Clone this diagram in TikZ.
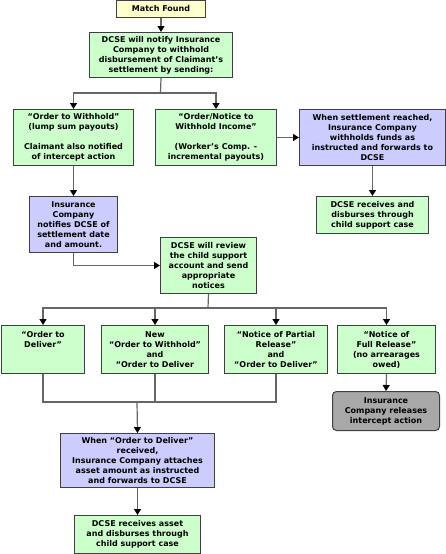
\documentclass[tikz,border=0pt]{standalone}
\usepackage{fontspec}
\setmainfont{DejaVu Sans}
\usetikzlibrary{arrows.meta}
\definecolor{gfill}{HTML}{CCFFCC}
\definecolor{bfill}{HTML}{CCCCFF}
\definecolor{yfill}{HTML}{FFFFCC}
\definecolor{rfill}{HTML}{A8A8A8}
\definecolor{bord}{HTML}{404040}
\definecolor{conn}{HTML}{666666}
\tikzset{
  box/.style={draw=bord, line width=1pt, anchor=north west, align=center,
    inner sep=1.5pt, font=\fontsize{8}{10}\selectfont\bfseries},
  gbox/.style={box, fill=gfill},
  ybox/.style={box, fill=yfill},
  rbox/.style={box, fill=rfill, rounded corners=4pt},
  conline/.style={draw=conn, line width=1.2pt},
  arr/.style={conline, -{Triangle[width=7pt,length=6pt,color=black]}},
}
\begin{document}
\begin{tikzpicture}[x=1pt,y=-1pt]
\useasboundingbox (0,0) rectangle (446,554);
% nodes
\node[ybox, minimum width=89pt, minimum height=17pt] (match) at (116,0) {Match Found};
\node[gbox, minimum width=143pt, minimum height=45pt] (notify) at (89,32)
  {DCSE will notify Insurance\\Company to withhold\\disbursement of Claimant’s\\settlement by sending:};
\node[gbox, minimum width=120pt, minimum height=56pt] (otw) at (13,109)
  {“Order to Withhold”\\(lump sum payouts)\\[10pt]Claimant also notified\\of intercept action};
\node[gbox, minimum width=121pt, minimum height=56pt] (onw) at (155,109)
  {“Order/Notice to\\Withhold Income”\\[10pt](Worker’s Comp. -\\incremental payouts)};
\node[box, fill=bfill, minimum width=146pt, minimum height=56pt] (wsr) at (299,109)
  {When settlement reached,\\Insurance Company\\withholds funds as\\instructed and forwards to\\DCSE};
\node[box, fill=bfill, minimum width=88pt, minimum height=56pt] (ic) at (29,196)
  {Insurance\\Company\\notifies DCSE of\\settlement date\\and amount.};
\node[gbox, minimum width=112pt, minimum height=37pt] (dcr) at (316,196)
  {DCSE receives and\\disburses through\\child support case};
\node[gbox, minimum width=96pt, minimum height=56pt] (rev) at (160,237)
  {DCSE will review\\the child support\\account and send\\appropriate\\notices};
\node[gbox, minimum width=83pt, minimum height=48pt] (otd) at (1,325)
  {“Order to\\Deliver”\\~\\~};
\node[gbox, minimum width=107pt, minimum height=48pt] (new) at (101,325)
  {New\\“Order to Withhold”\\and\\“Order to Deliver};
\node[gbox, minimum width=103pt, minimum height=48pt] (npr) at (224,325)
  {“Notice of Partial\\Release”\\and\\“Order to Deliver”};
\node[gbox, minimum width=98pt, minimum height=48pt] (nfr) at (337,325)
  {“Notice of\\Full Release”\\(no arrearages\\owed)};
\node[rbox, minimum width=107pt, minimum height=39pt] (rel) at (332,391)
  {Insurance\\Company releases\\intercept action};
\node[box, fill=bfill, minimum width=154pt, minimum height=54pt] (wod) at (60,433)
  {When “Order to Deliver”\\received,\\Insurance Company attaches\\asset amount as instructed\\and forwards to DCSE};
\node[gbox, minimum width=126pt, minimum height=38pt] (dra) at (74,515)
  {DCSE receives asset\\and disburses through\\child support case};
% connectors
\draw[arr] (match) -- (notify);
\coordinate (s1) at (160.5,93);
\draw[conline] (notify.south) -- (s1);
\draw[arr] (s1) -| (otw.north);
\draw[arr] (s1) -| (onw.north);
\draw[arr] (onw.east) -- (wsr.west);
\draw[arr] (wsr.south) -- (dcr.north);
\draw[arr] (otw.south) -- (ic.north);
\draw[arr] (ic.south) |- (rev.west);
\coordinate (s2) at (208,308);
\draw[conline] (rev.south) -- (s2);
\draw[arr] (s2) -| (otd.north);
\draw[arr] (s2) -| (new.north);
\draw[arr] (s2) -| (npr.north);
\draw[arr] (s2) -| (nfr.north);
\coordinate (j) at (137,402);
\draw[conline] (otd.south) |- (j);
\draw[conline] (new.south) |- (j);
\draw[conline] (npr.south) |- (j);
\draw[arr] (j) -- (wod.north);
\draw[arr] (nfr.south) -- (rel.north);
\draw[arr] (wod.south) -- (dra.north);
\end{tikzpicture}
\end{document}
